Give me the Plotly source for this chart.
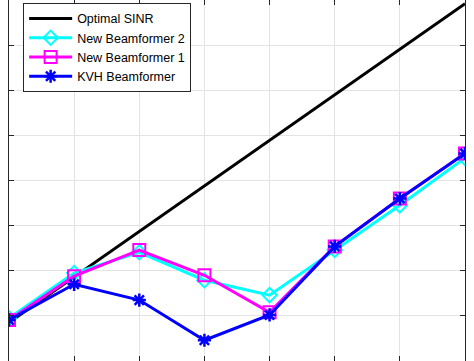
import plotly.graph_objects as go

x_idx = [0, 1, 2, 3, 4, 5, 6, 7]
optimal = [0.85, 1.86, 2.87, 3.88, 4.89, 5.90, 6.91, 7.92]
new_bf2 = [0.95, 1.95, 2.41, 1.79, 1.46, 2.46, 3.45, 4.50]
new_bf1 = [0.91, 1.88, 2.46, 1.90, 1.08, 2.54, 3.60, 4.60]
kvh = [0.91, 1.70, 1.35, 0.46, 1.02, 2.54, 3.60, 4.60]

fig = go.Figure()
fig.add_trace(go.Scatter(x=x_idx, y=optimal, mode="lines", name="Optimal SINR",
                         line=dict(color="black", width=3)))
fig.add_trace(go.Scatter(x=x_idx, y=new_bf2, mode="lines+markers", name="New Beamformer 2",
                         line=dict(color="#00FFFF", width=3),
                         marker=dict(symbol="diamond-open", size=11, color="#00FFFF",
                                     line=dict(color="#00FFFF", width=2))))
fig.add_trace(go.Scatter(x=x_idx, y=new_bf1, mode="lines+markers", name="New Beamformer 1",
                         line=dict(color="#FF00FF", width=3),
                         marker=dict(symbol="square-open", size=12, color="#FF00FF",
                                     line=dict(color="#FF00FF", width=2))))
fig.add_trace(go.Scatter(x=x_idx, y=kvh, mode="lines+markers", name="KVH Beamformer",
                         line=dict(color="#0000FF", width=3),
                         marker=dict(symbol="asterisk-open", size=11, color="#0000FF",
                                     line=dict(color="#0000FF", width=2.5))))

axis_common = dict(showgrid=True, gridcolor="#e3e3e3", gridwidth=1,
                   showline=True, linecolor="#262626", linewidth=1,
                   mirror="ticks", ticks="inside", ticklen=5, tickcolor="#262626",
                   showticklabels=False, zeroline=False)
fig.update_xaxes(range=[0, 7], dtick=1, **axis_common)
fig.update_yaxes(range=[0, 8], dtick=1, **axis_common)

fig.update_layout(
    width=474, height=361,
    margin=dict(l=9, r=9, t=0, b=0),
    plot_bgcolor="white", paper_bgcolor="white",
    font=dict(family="Liberation Sans, Arial, sans-serif", size=12.5, color="black"),
    legend=dict(x=0.031, y=0.992, xanchor="left", yanchor="top",
                bgcolor="white", bordercolor="#262626", borderwidth=1,
                itemwidth=43, tracegroupgap=0,
                font=dict(size=12.5)),
    showlegend=True,
)

fig.write_html("out.html",
               config={"displayModeBar": False},
               post_script="document.body.style.margin='0';document.body.style.padding='0';")
